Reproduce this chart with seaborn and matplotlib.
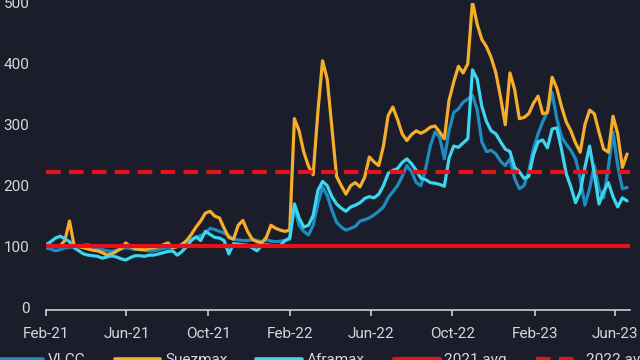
import numpy as np
import pandas as pd
import seaborn as sns
import matplotlib.pyplot as plt
import matplotlib.dates as mdates

# weekly index, Feb-21 .. Jun-23
start_date = "2021-02-01"
n_weeks = 125

vlcc = [98, 96, 93, 95, 98, 99, 100, 101, 102, 103,
        100, 96, 95, 93, 92, 94, 96, 98, 97, 95,
        96, 94, 93, 93, 95, 97, 98, 99, 100, 104,
        109, 112, 115, 118, 122, 130, 128, 125, 122, 118,
        112, 111, 110, 110, 111, 110, 108, 111, 109, 108,
        109, 110, 112, 165, 135, 125, 119, 135, 170, 198,
        184, 160, 140, 132, 127, 130, 133, 142, 144, 147,
        152, 158, 165, 180, 190, 200, 215, 233, 223, 205,
        200, 228, 265, 288, 280, 244, 290, 320, 326, 337,
        342, 348, 325, 272, 256, 258, 252, 240, 233, 244,
        212, 195, 200, 223, 260, 285, 305, 321, 353, 310,
        280, 268, 258, 244, 212, 168, 195, 233, 195, 180,
        230, 288, 233, 195, 197]

suezmax = [100, 102, 100, 101, 110, 142, 101, 100, 98, 96,
           94, 93, 90, 86, 88, 92, 97, 106, 100, 97,
           95, 95, 97, 98, 100, 103, 106, 98, 100, 103,
           110, 120, 132, 142, 155, 158, 150, 147, 130, 115,
           112, 135, 143, 125, 112, 108, 106, 115, 135, 130,
           127, 125, 127, 310, 290, 255, 232, 218, 320, 405,
           375, 295, 215, 200, 186, 200, 205, 198, 214, 247,
           239, 233, 265, 315, 329, 309, 285, 274, 284, 290,
           286, 290, 296, 298, 288, 277, 340, 370, 396, 385,
           400, 502, 465, 440, 428, 410, 385, 345, 300, 385,
           358, 310, 312, 318, 335, 347, 318, 320, 378, 360,
           330, 305, 290, 270, 255, 300, 324, 318, 288, 260,
           255, 314, 285, 230, 252]

aframax = [103, 108, 114, 117, 113, 108, 98, 93, 88, 86,
           85, 84, 81, 83, 85, 83, 80, 78, 82, 85,
           85, 84, 86, 86, 88, 90, 92, 93, 86, 92,
           100, 110, 116, 110, 125, 120, 115, 114, 110, 88,
           105, 104, 103, 102, 98, 93, 102, 103, 102, 101,
           102, 110, 114, 170, 147, 132, 135, 151, 192, 207,
           200, 182, 170, 163, 158, 165, 168, 172, 179, 182,
           180, 186, 200, 220, 225, 228, 238, 244, 236, 225,
           212, 210, 205, 204, 202, 199, 245, 265, 263, 270,
           277, 390, 375, 330, 305, 290, 285, 272, 260, 256,
           230, 223, 212, 215, 250, 272, 275, 262, 293, 295,
           260, 220, 198, 172, 190, 230, 265, 220, 170, 190,
           205, 182, 165, 180, 175]

avg_2021 = 101
avg_2022 = 222

series_names = ["VLCC", "Suezmax", "Aframax"]
colors = ["#1f8cc0", "#f5ae2a", "#3dd6ef"]
red = "#e5121c"
bg = "#1b1d2a"
txt = "#d8d8dc"

dates = pd.date_range(start_date, periods=n_weeks, freq="7D")
df = pd.DataFrame({"date": dates, "VLCC": vlcc, "Suezmax": suezmax, "Aframax": aframax})
long_df = df.melt(id_vars="date", var_name="vessel", value_name="rate")

sns.set_style("dark")
plt.rcParams["font.family"] = ["Roboto", "DejaVu Sans"]

fig = plt.figure(figsize=(6.4, 3.6), dpi=100, facecolor=bg)
ax = fig.add_axes([0.072, 0.139, 0.912, 0.853])
ax.set_facecolor(bg)

sns.lineplot(data=long_df, x="date", y="rate", hue="vessel", hue_order=series_names,
             palette=colors, linewidth=2.3, ax=ax, legend=False)

ax.axhline(avg_2021, color=red, linewidth=3, label="2021 avg")
ax.axhline(avg_2022, color=red, linewidth=3, linestyle=(0, (3.5, 2)), label="2022 avg")

ax.set_xlim(dates[0], dates[-1] + pd.Timedelta(days=4))
ax.set_ylim(-4, 500)
ax.set_yticks([0, 100, 200, 300, 400, 500])
ax.xaxis.set_major_locator(mdates.MonthLocator(bymonth=[2, 6, 10]))
ax.xaxis.set_major_formatter(mdates.DateFormatter("%b-%y"))
ax.set_xlabel("")
ax.set_ylabel("")
ax.grid(False)

for s in ["left", "right", "top"]:
    ax.spines[s].set_visible(False)
ax.spines["bottom"].set_visible(True)
ax.spines["bottom"].set_color("#cfcfd4")
ax.spines["bottom"].set_linewidth(1.2)
ax.tick_params(axis="y", length=0, pad=12, labelsize=11, labelcolor=txt)
ax.tick_params(axis="x", length=4, width=1.2, color="#cfcfd4", pad=8, labelsize=11, labelcolor=txt,
               bottom=True)

handles = [plt.Line2D([], [], color=c, linewidth=2.6) for c in colors]
handles += [plt.Line2D([], [], color=red, linewidth=3),
            plt.Line2D([], [], color=red, linewidth=3, linestyle=(0, (3.5, 2)))]
labels = series_names + ["2021 avg", "2022 avg"]
fig.legend(handles, labels, loc="center", bbox_to_anchor=(0.505, 0.0), ncol=5, frameon=False,
           fontsize=11, labelcolor=txt, handlelength=3.0, handletextpad=0.3, columnspacing=1.9)

fig.savefig("out.png", dpi=100, facecolor=bg)
